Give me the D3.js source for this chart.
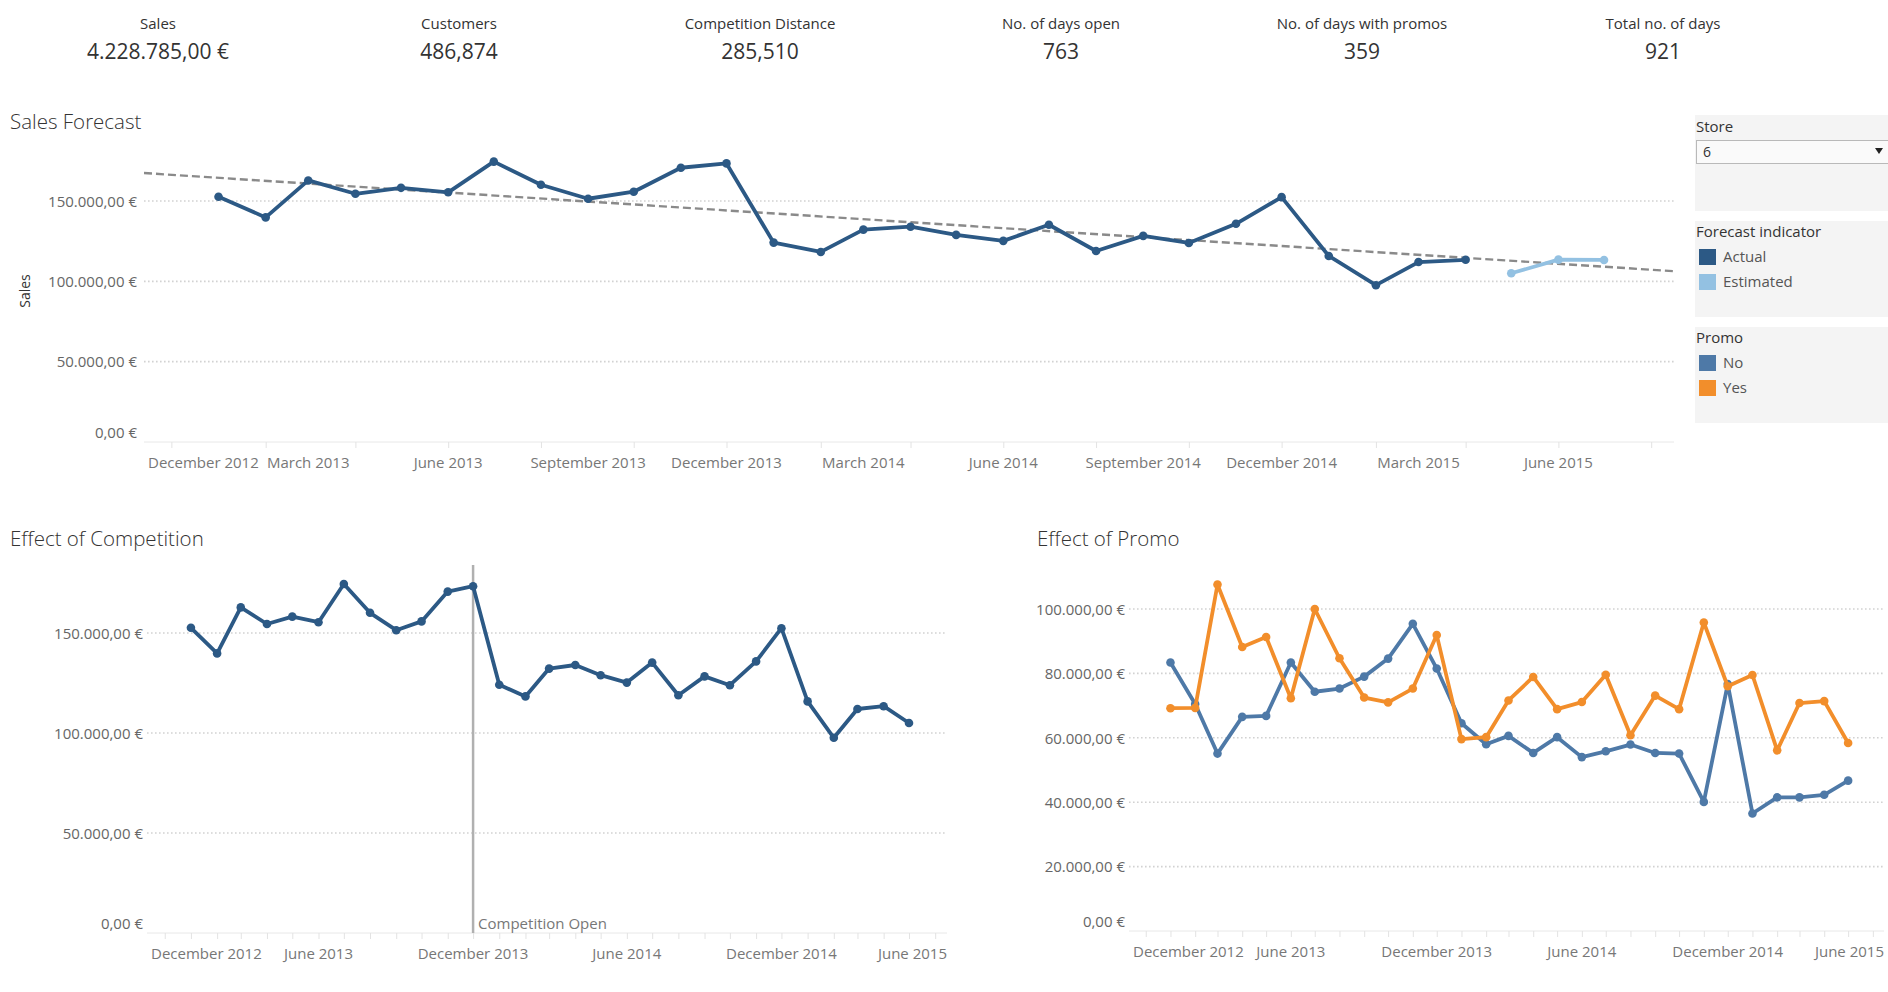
<!DOCTYPE html>
<html>
<head>
<meta charset="utf-8">
<script src="https://cdn.jsdelivr.net/npm/d3@7"></script>
<style>
  body { margin: 0; background: #fff; }
  text { font-family: "Open Sans", "Noto Sans", sans-serif; }
</style>
</head>
<body>
<svg id="chart" width="1888" height="992"></svg>
<script>
// KPI strip
const kpiLabels = ['Sales', 'Customers', 'Competition Distance', 'No. of days open', 'No. of days with promos', 'Total no. of days']
const kpiValues = ['4.228.785,00 €', '486,874', '285,510', '763', '359', '921']

// monthly sales of store 6, Jan 2013 - May 2015
const months = ['2013-01', '2013-02', '2013-03', '2013-04', '2013-05', '2013-06', '2013-07', '2013-08', '2013-09', '2013-10', '2013-11', '2013-12',
    '2014-01', '2014-02', '2014-03', '2014-04', '2014-05', '2014-06', '2014-07', '2014-08', '2014-09', '2014-10', '2014-11', '2014-12',
    '2015-01', '2015-02', '2015-03', '2015-04', '2015-05']
const monthlySales = [152600, 139800, 162800, 154500, 158200, 155400, 174500, 160100, 151400, 155800, 170700, 173400,
    124100, 118300, 132200, 134000, 128900, 125200, 135200, 118900, 128300, 123900, 135800, 152400,
    115800, 97600, 112000, 113400, 105000]
const promoNo = [83400, 70500, 55100, 66500, 66800, 83400, 74300, 75300, 79000, 84600, 95400, 81500,
    64500, 58000, 60600, 55300, 60200, 54000, 55800, 57900, 55300, 55100, 40100, 76700,
    36500, 41500, 41500, 42300, 46700]
const promoYes = [69200, 69300, 107600, 88200, 91300, 72300, 100000, 84700, 72500, 71000, 75300, 91900,
    59600, 60200, 71600, 78900, 68900, 71100, 79600, 60800, 73100, 68900, 95800, 76000,
    79500, 56100, 70800, 71400, 58400]

// forecast panel
const actualCount = 28
const estimatedMonths = ['2015-05', '2015-06', '2015-07']
const estimatedSales = [105000, 113500, 113300]
const trendDates = ['2012-11-13', '2015-08-16']
const trendSales = [167400, 106300]
const competitionOpen = '2013-12'

const forecastLegend = ['Actual', 'Estimated']
const promoLegend = ['No', 'Yes']
const storeSelected = '6'

const parseMonth = d3.timeParse('%Y-%m')
const parseDay = d3.timeParse('%Y-%m-%d')
const euro = d3.formatLocale({ decimal: ',', thousands: '.', grouping: [3], currency: ['', ' €'] }).format('$,.2f')
const monthName = d3.timeFormat('%B %Y')

const cActual = '#2c5985'
const cEstimated = '#93c1e2'
const promoColor = d3.scaleOrdinal().domain(promoLegend).range(['#4e79a7', '#f28e2b'])
const forecastColor = d3.scaleOrdinal().domain(forecastLegend).range([cActual, cEstimated])

const svg = d3.select('#chart')

// ---- KPIs
const kx = d3.scalePoint().domain(kpiLabels).range([158, 1663])
kpiLabels.forEach((k, i) => {
    svg.append('text').attr('x', kx(k)).attr('y', 29).attr('text-anchor', 'middle')
        .attr('font-size', '15px').attr('fill', '#333').text(k)
    svg.append('text').attr('x', kx(k)).attr('y', 59).attr('text-anchor', 'middle')
        .attr('font-size', '21px').attr('fill', '#333').text(kpiValues[i])
})

// ---- shared helpers
function title(x, y, t) {
    svg.append('text').attr('x', x).attr('y', y).attr('font-size', '20.5px')
        .attr('font-weight', 300).attr('fill', '#333').text(t)
}

function frame(x, y, yTicks, tickDates, labelDates, labelPad) {
    const [x0, x1] = x.range()
    const y0 = y(0)
    const g = svg.append('g')

    // dotted gridlines
    g.selectAll('.grid').data(yTicks.filter(v => v > 0)).join('line')
        .attr('x1', x0).attr('x2', x1)
        .attr('y1', d => y(d)).attr('y2', d => y(d))
        .attr('stroke', '#d2d2d2').attr('stroke-width', 1.6).attr('stroke-dasharray', '1.6,2.4')

    // y labels
    const ya = g.append('g').attr('transform', `translate(${x0},0)`)
        .call(d3.axisLeft(y).tickValues(yTicks).tickSize(0).tickPadding(labelPad).tickFormat(euro))
    ya.select('.domain').remove()
    ya.selectAll('text').attr('font-size', '15px').attr('fill', '#666').attr('font-family', null)
        .attr('dy', d => d === 0 ? '-5px' : '0.35em')

    // baseline + ticks
    const xa = g.append('g').attr('transform', `translate(0,${y0})`)
        .call(d3.axisBottom(x).tickValues(tickDates).tickSize(6).tickFormat(''))
    xa.select('.domain').attr('stroke', '#e8e8e8').attr('d', `M${x0},0H${x1}`)
    xa.selectAll('.tick line').attr('stroke', '#e3e3e3')

    // date labels, kept inside the plot like Tableau does
    labelDates.forEach(d => {
        const t = g.append('text').attr('y', y0 + 26).attr('font-size', '15px').attr('fill', '#777')
            .text(monthName(d))
        const w = t.node().getComputedTextLength()
        let lx = x(d) - w / 2
        lx = Math.max(x0 + 4, Math.min(x1 - w, lx))
        t.attr('x', lx)
    })
}

function series(x, y, data, color) {
    svg.append('path').datum(data)
        .attr('fill', 'none').attr('stroke', color).attr('stroke-width', 3.8)
        .attr('stroke-linejoin', 'round')
        .attr('d', d3.line().x(d => x(d.date)).y(d => y(d.value)))
    svg.append('g').selectAll('circle').data(data).join('circle')
        .attr('cx', d => x(d.date)).attr('cy', d => y(d.value)).attr('r', 4.3).attr('fill', color)
}

const allMonths = months.map(parseMonth)
const salesRows = allMonths.map((d, i) => ({ date: d, value: monthlySales[i] }))

// ---- Sales Forecast
title(10, 129, 'Sales Forecast')
const xTop = d3.scaleTime().domain([parseDay('2012-11-13'), parseDay('2015-08-16')]).range([144, 1674])
const yTop = d3.scaleLinear().domain([0, 150000]).range([442, 201])
frame(xTop, yTop, [0, 50000, 100000, 150000],
    d3.timeMonth.range(new Date(2012, 11, 1), new Date(2015, 7, 2), 2),
    d3.timeMonth.range(new Date(2012, 11, 1), new Date(2015, 7, 2), 3), 7)

svg.append('text').attr('transform', 'translate(30,291) rotate(-90)').attr('text-anchor', 'middle')
    .attr('font-size', '14px').attr('fill', '#333').text('Sales')

svg.append('path')
    .datum(trendDates.map((d, i) => ({ date: parseDay(d), value: trendSales[i] })))
    .attr('fill', 'none').attr('stroke', '#8a8a8a').attr('stroke-width', 2.4).attr('stroke-dasharray', '8,4')
    .attr('d', d3.line().x(d => xTop(d.date)).y(d => yTop(d.value)))

series(xTop, yTop, salesRows.slice(0, actualCount), cActual)
series(xTop, yTop, estimatedMonths.map((m, i) => ({ date: parseMonth(m), value: estimatedSales[i] })), cEstimated)

// ---- Effect of Competition
title(10, 546, 'Effect of Competition')
const xBot = [147, 947]
const xComp = d3.scaleTime().domain([parseDay('2012-11-10'), parseDay('2015-06-15')]).range(xBot)
const yComp = d3.scaleLinear().domain([0, 150000]).range([933, 633])
const sixMonthly = d3.timeMonth.range(new Date(2012, 11, 1), new Date(2015, 5, 2), 6)
frame(xComp, yComp, [0, 50000, 100000, 150000],
    d3.timeMonth.range(new Date(2012, 11, 1), new Date(2015, 5, 2)), sixMonthly, 4)

const openX = xComp(parseMonth(competitionOpen))
svg.append('line').attr('x1', openX).attr('x2', openX).attr('y1', 565).attr('y2', yComp(0))
    .attr('stroke', '#b0b0b0').attr('stroke-width', 2.5)
svg.append('text').attr('x', openX + 5).attr('y', yComp(0) - 4).attr('font-size', '15px')
    .attr('fill', '#777').text('Competition Open')

series(xComp, yComp, salesRows, cActual)

// ---- Effect of Promo
title(1037, 546, 'Effect of Promo')
const xPromo = d3.scaleTime().domain([parseDay('2012-11-10'), parseDay('2015-06-15')]).range([1129, 1884])
const yPromo = d3.scaleLinear().domain([0, 100000]).range([931, 609])
frame(xPromo, yPromo, [0, 20000, 40000, 60000, 80000, 100000],
    d3.timeMonth.range(new Date(2012, 11, 1), new Date(2015, 5, 2)), sixMonthly, 4)

series(xPromo, yPromo, allMonths.map((d, i) => ({ date: d, value: promoNo[i] })), promoColor('No'))
series(xPromo, yPromo, allMonths.map((d, i) => ({ date: d, value: promoYes[i] })), promoColor('Yes'))

// ---- right hand panel
const side = svg.append('g')
side.append('rect').attr('x', 1695).attr('y', 115).attr('width', 193).attr('height', 96).attr('fill', '#f4f4f4')
side.append('text').attr('x', 1696).attr('y', 132).attr('font-size', '15px').attr('fill', '#333').text('Store')
side.append('rect').attr('x', 1696.5).attr('y', 140.5).attr('width', 192).attr('height', 23)
    .attr('fill', '#fafafa').attr('stroke', '#b9b9b9')
side.append('text').attr('x', 1703).attr('y', 157).attr('font-size', '14px').attr('fill', '#333').text(storeSelected)
side.append('path').attr('d', 'M1875,148h8l-4,6z').attr('fill', '#222')

function legendBox(top, name, items, color) {
    side.append('rect').attr('x', 1695).attr('y', top).attr('width', 193).attr('height', 96).attr('fill', '#f4f4f4')
    side.append('text').attr('x', 1696).attr('y', top + 16).attr('font-size', '15px').attr('fill', '#333').text(name)
    items.forEach((it, i) => {
        side.append('rect').attr('x', 1699).attr('y', top + 28 + i * 25).attr('width', 17).attr('height', 16)
            .attr('fill', color(it))
        side.append('text').attr('x', 1723).attr('y', top + 41 + i * 25).attr('font-size', '15px')
            .attr('fill', '#555').text(it)
    })
}
legendBox(221, 'Forecast indicator', forecastLegend, forecastColor)
legendBox(327, 'Promo', promoLegend, promoColor)
</script>
</body>
</html>
